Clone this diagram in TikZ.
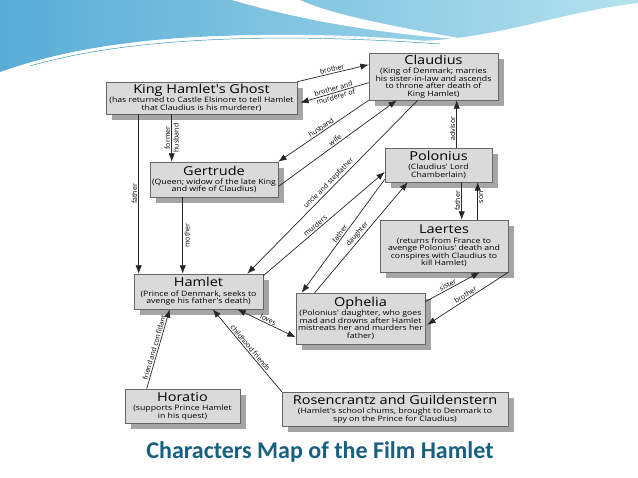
\documentclass[tikz,border=0pt]{standalone}
\usepackage{fontspec}
\setmainfont{Open Sans}
\newfontfamily\boxfont[FakeStretch=1.18]{Open Sans}
\newfontfamily\titlefont{Carlito}
\usepackage{tikz}
\usetikzlibrary{arrows.meta, calc, shadows}
\definecolor{boxgray}{RGB}{218,218,218}
\definecolor{shadowgray}{RGB}{165,165,165}
\definecolor{titleteal}{RGB}{24,96,128}
\definecolor{waveblue}{RGB}{88,172,214}
\definecolor{wavecyan}{RGB}{180,226,238}
\newcommand{\charname}[1]{{\fontsize{10.5}{12}\selectfont #1}}

\begin{document}
\begin{tikzpicture}[x=0.03cm, y=-0.03cm,
  charbox/.style 2 args={draw=black!60, fill=boxgray, line width=0.5pt,
    align=center, inner sep=1pt,
    font={\boxfont\fontsize{6.3}{6.4}\selectfont\lineskiplimit=-4pt},
    minimum width=#1*0.03cm, minimum height=#2*0.03cm,
    general shadow={fill=shadowgray, shadow xshift=5pt, shadow yshift=-5pt}},
  arr/.style={draw=black!85, line width=0.6pt, -{Latex[length=2.5mm, width=1.9mm]}},
  lbl/.style={font=\fontsize{6}{6.5}\selectfont, inner sep=1pt}
]
  \useasboundingbox (0,0) rectangle (638,478);
  \fill[white] (0,0) rectangle (638,478);

  %--- slide banner ---
  \shade[left color=waveblue, right color=wavecyan]
    (0,0) -- (638,0) -- (638,3) .. controls (560,12) and (500,38) .. (420,41)
    .. controls (320,36) and (140,22) .. (0,72) -- cycle;
  \fill[white] (232,0) .. controls (300,20) and (380,34) .. (470,40)
    .. controls (390,26) and (330,14) .. (300,0) -- cycle;
  \draw[white, line width=1.2pt] (10,70) .. controls (120,32) and (300,30) .. (430,42);
  \draw[cyan!50!teal, line width=0.4pt] (30,66) .. controls (140,34) and (300,34) .. (440,44);

  %--- characters ---
  \node[charbox={191}{32}] (ghost) at (201.5,98)
    {\charname{King Hamlet's Ghost}\\[1.5pt] (has returned to Castle Elsinore to tell Hamlet\\ that Claudius is his murderer)};
  \node[charbox={129}{47}] (claudius) at (433.5,76.5)
    {\charname{Claudius}\\[1.5pt] (King of Denmark; marries\\ his sister-in-law and ascends\\ to throne after death of\\ King Hamlet)};
  \node[charbox={128}{35}] (gertrude) at (214,179.5)
    {\charname{Gertrude}\\[1.5pt] (Queen; widow of the late King\\ and wife of Claudius)};
  \node[charbox={107}{34}] (polonius) at (438.5,165)
    {\charname{Polonius}\\[1.5pt] (Claudius' Lord\\ Chamberlain)};
  \node[charbox={128}{52}] (laertes) at (444,246)
    {\charname{Laertes}\\[1.5pt] (returns from France to\\ avenge Polonius' death and\\ conspires with Claudius to\\ kill Hamlet)};
  \node[charbox={129}{35}] (hamlet) at (198.5,291.5)
    {\charname{Hamlet}\\[1.5pt] (Prince of Denmark, seeks to\\ avenge his father's death)};
  \node[charbox={129}{51}] (ophelia) at (360.5,318.5)
    {\charname{Ophelia}\\[1.5pt] (Polonius' daughter, who goes\\ mad and drowns after Hamlet\\ mistreats her and murders her\\ father)};
  \node[charbox={115}{34}] (horatio) at (182.5,406)
    {\charname{Horatio}\\[1.5pt] (supports Prince Hamlet\\ in his quest)};
  \node[charbox={226}{34}] (rosguil) at (395,409)
    {\charname{Rosencrantz and Guildenstern}\\[1.5pt] (Hamlet's school chums, brought to Denmark to\\ spy on the Prince for Claudius)};

  %--- relations ---
  \draw[arr] (ghost.north east) -- node[lbl, sloped, above] {brother}
    ($(claudius.north west)+(0,12)$);
  \draw[arr] ($(claudius.north west)+(0,30)$)
    -- node[lbl, sloped, above] {brother and}
       node[lbl, sloped, below] {murderer of} ($(ghost.north east)+(3,21)$);
  \draw[arr] (claudius.south west) -- node[lbl, sloped, above] {husband}
    (gertrude.north east);
  \draw[arr] ($(gertrude.east)+(0,7)$) -- node[lbl, sloped, above] {wife}
    ($(claudius.south west)+(28,0)$);
  \draw[arr] ($(claudius.south west)+(49,0)$)
    -- node[lbl, sloped, above] {uncle and stepfather} ($(hamlet.north east)+(-16,0)$);
  \draw[arr] ($(hamlet.north east)+(0,2)$)
    -- node[lbl, sloped, above, pos=0.45] {murders} ($(polonius.west)+(0,7)$);
  \draw[arr] ($(polonius.south west)+(0,-3)$)
    -- node[lbl, sloped, above] {father} ($(ophelia.north west)+(6,0)$);
  \draw[arr] ($(ophelia.north west)+(19,0)$)
    -- node[lbl, sloped, above] {daughter} ($(polonius.south west)+(23,0)$);
  \draw[arr] ($(polonius.north west)+(72,0)$)
    -- node[lbl, pos=0.4, rotate=90, anchor=south] {advisor} ($(claudius.south west)+(88,0)$);
  \draw[arr] ($(polonius.south west)+(77,0)$)
    -- node[lbl, rotate=90, anchor=south] {father} ($(laertes.north west)+(82,0)$);
  \draw[arr] ($(laertes.north west)+(98,0)$)
    -- node[lbl, pos=0.6, rotate=90, anchor=north] {son} ($(polonius.south west)+(93,0)$);
  \draw[arr] ($(ghost.south west)+(33,0)$)
    -- node[lbl, rotate=90, anchor=south] {father} ($(hamlet.north west)+(5,0)$);
  \draw[arr] ($(ghost.south west)+(66,0)$)
    -- node[lbl, rotate=90, anchor=south] {former}
       node[lbl, rotate=90, anchor=north] {husband} ($(gertrude.north west)+(22,0)$);
  \draw[arr] ($(gertrude.south west)+(33,0)$)
    -- node[lbl, rotate=90, anchor=north] {mother} ($(hamlet.north west)+(49,0)$);
  \draw[arr, {Latex[length=2.5mm, width=1.9mm]}-{Latex[length=2.5mm, width=1.9mm]}]
    ($(hamlet.south east)+(-26,0)$)
    -- node[lbl, sloped, above] {loves} ($(ophelia.south west)+(0,-7)$);
  \draw[arr] ($(ophelia.north east)+(0,9)$)
    -- node[lbl, sloped, above, pos=0.45] {sister} ($(laertes.south west)+(100,0)$);
  \draw[arr] (laertes.south east)
    -- node[lbl, sloped, above] {brother} ($(ophelia.north east)+(2,32)$);
  \draw[arr] ($(horatio.north west)+(22,0)$)
    -- node[lbl, sloped, above] {friend and confidant} ($(hamlet.south west)+(36,0)$);
  \draw[arr] (rosguil.north west)
    -- node[lbl, sloped, above] {childhood friends} ($(hamlet.south west)+(79,0)$);

  %--- caption ---
  \node[font=\titlefont\bfseries\fontsize{20.5}{24}\selectfont, text=titleteal] (caption)
    at (320,452) {Characters Map of the Film Hamlet};
\end{tikzpicture}
\end{document}
